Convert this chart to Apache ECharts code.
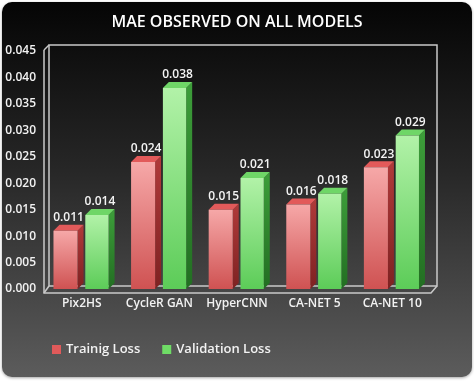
<!DOCTYPE html>
<html>
<head>
<meta charset="utf-8">
<script src="https://cdn.jsdelivr.net/npm/echarts@6/dist/echarts.min.js"></script>
<style>
html,body{margin:0;padding:0;background:#ffffff;}
#c{width:474px;height:381px;}
</style>
</head>
<body>
<div id="c"></div>
<script>
const categories = ['Pix2HS', 'CycleR GAN', 'HyperCNN', 'CA-NET 5', 'CA-NET 10'];
const trainingLoss = [0.011, 0.024, 0.015, 0.016, 0.023];
const validationLoss = [0.014, 0.038, 0.021, 0.018, 0.029];
const seriesNames = ['Trainig Loss', 'Validation Loss'];
const yTicks = [0, 0.005, 0.01, 0.015, 0.02, 0.025, 0.03, 0.035, 0.04, 0.045];

const G = {left: 43, right: 43, top: 51, bottom: 92};
const W = 474, H = 381;
const DX = 6, DY = 6;
const FONT = '"Open Sans", "Noto Sans", sans-serif';

const palettes = [
  {front: ['#f6a8a8', '#cf5252'], side: ['#b03a3a', '#7e2222'], top: '#e25a5a'},
  {front: ['#b2f2a8', '#5ccc58'], side: ['#3d9e3a', '#226e22'], top: '#6fd667'}
];

function make3DBar(offsetFrac, widthFrac, pal) {
  return function (params, api) {
    const cat = api.value(0);
    const val = api.value(1);
    const topPt = api.coord([cat, val]);
    const basePt = api.coord([cat, 0]);
    const band = api.size([1, 0])[0];
    const w = band * widthFrac;
    const x0 = topPt[0] + band * offsetFrac - w / 2;
    const x1 = x0 + w;
    const yT = topPt[1];
    const yB = basePt[1];
    return {
      type: 'group',
      children: [
        {type: 'polygon', shape: {points: [[x1, yT], [x1 + DX, yT - DY], [x1 + DX, yB - DY], [x1, yB]]},
          style: {fill: new echarts.graphic.LinearGradient(0, 0, 0, 1, [{offset: 0, color: pal.side[0]}, {offset: 1, color: pal.side[1]}])}},
        {type: 'polygon', shape: {points: [[x0, yT], [x0 + DX, yT - DY], [x1 + DX, yT - DY], [x1, yT]]},
          style: {fill: pal.top}},
        {type: 'rect', shape: {x: x0, y: yT, width: w, height: yB - yT},
          style: {fill: new echarts.graphic.LinearGradient(0, 0, 0, 1, [{offset: 0, color: pal.front[0]}, {offset: 1, color: pal.front[1]}])}},
        {type: 'text', x: (x0 + x1 + DX) / 2, y: yT - DY - 1,
          style: {text: val.toFixed(3), fill: '#f4f4f4', font: '600 12px ' + FONT, align: 'center', verticalAlign: 'bottom'}}
      ]
    };
  };
}

// frame (3D walls) derived from grid constants
const fL = G.left + 1, fR = W - G.right, fT = G.top - 1, fB = H - G.bottom + 4;
const frameLines = [
  [[fL, fT], [fL, fB], [fR, fB], [fR + DX, fB - DY - 1]],
  [[fL, fT], [fL + DX - 1, fT - DY + 1]],
  [[fL, fB], [fL + DX - 1, fB - DY - 1]],
  [[fL + DX - 1, fB - DY - 1], [fL + DX - 1, fT - DY + 1], [fR + DX, fT - DY + 1], [fR + DX, fB - DY - 1], [fL + DX - 1, fB - DY - 1]]
];

const chart = echarts.init(document.getElementById('c'), null, {renderer: 'canvas'});
chart.setOption({
  animation: false,
  backgroundColor: 'transparent',
  graphic: [
    {type: 'rect', z: -10, silent: true,
      shape: {x: 2, y: 2, width: 470, height: 375, r: 10},
      style: {fill: new echarts.graphic.LinearGradient(0, 0, 0, 1, [
        {offset: 0, color: '#050505'}, {offset: 0.45, color: '#272727'}, {offset: 1, color: '#5c5c5c'}]),
        shadowBlur: 3, shadowColor: 'rgba(0,0,0,0.35)', shadowOffsetY: 1}}
  ].concat(frameLines.map(pts => ({
    type: 'polyline', z: -5, silent: true,
    shape: {points: pts},
    style: {stroke: '#c9c9c9', lineWidth: 1.5, fill: null}
  }))),
  title: {
    text: 'MAE OBSERVED ON ALL MODELS',
    left: 'center', top: 9,
    textStyle: {color: '#ffffff', fontSize: 16, fontWeight: 600, fontFamily: FONT}
  },
  legend: {
    left: 47, top: 338,
    itemWidth: 9, itemHeight: 9, itemGap: 22,
    icon: 'rect',
    textStyle: {color: '#f2f2f2', fontSize: 13, fontWeight: 600, fontFamily: FONT},
    data: seriesNames
  },
  grid: {left: G.left, right: G.right, top: G.top, bottom: G.bottom, containLabel: false},
  xAxis: {
    type: 'category', data: categories,
    axisLine: {show: false}, axisTick: {show: false},
    axisLabel: {interval: 0, color: '#f2f2f2', fontSize: 12, fontWeight: 600, fontFamily: FONT, margin: 9}
  },
  yAxis: {
    type: 'value', min: 0, max: yTicks[yTicks.length - 1], interval: 0.005,
    axisLine: {show: false}, axisTick: {show: false}, splitLine: {show: false},
    axisLabel: {color: '#f2f2f2', fontSize: 12, fontWeight: 600, fontFamily: FONT, margin: 7,
      formatter: v => v.toFixed(3)}
  },
  series: [
    {name: seriesNames[0], type: 'custom', itemStyle: {color: '#e05a5a'},
      renderItem: make3DBar(-0.21, 0.31, palettes[0]),
      encode: {x: 0, y: 1},
      data: trainingLoss.map((v, i) => [i, v])},
    {name: seriesNames[1], type: 'custom', itemStyle: {color: '#6fdc66'},
      renderItem: make3DBar(0.195, 0.30, palettes[1]),
      encode: {x: 0, y: 1},
      data: validationLoss.map((v, i) => [i, v])}
  ]
});
</script>
</body>
</html>
